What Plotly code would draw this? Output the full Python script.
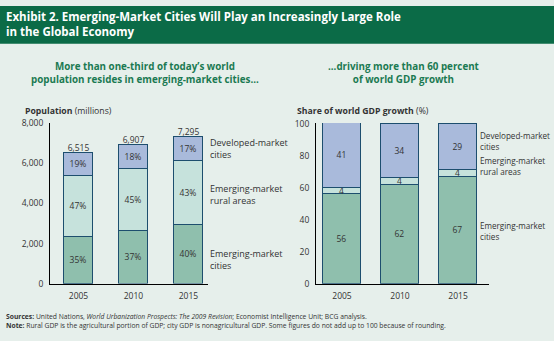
import plotly.graph_objects as go

W, H = 554, 341

years = ["2005", "2010", "2015"]

# Population (millions)
pop_totals = [6515, 6907, 7295]
pop_cities = [2300, 2600, 2900]
pop_rural = [3050, 3130, 3200]
pop_developed = [1165, 1177, 1195]
pop_cities_lbl = ["35%", "37%", "40%"]
pop_rural_lbl = ["47%", "45%", "43%"]
pop_developed_lbl = ["19%", "18%", "17%"]

# Share of world GDP growth (%)
gdp_cities = [56, 62, 67]
gdp_rural = [4, 4, 4]
gdp_developed = [41, 34, 29]

C_CITY = "#8fbfad"
C_RURAL = "#c6e2dc"
C_DEV = "#a9badb"
EDGE = "#1d4e6e"
BG = "#e6efeb"
HEAD = "#0b6b47"
GREEN_TXT = "#1b7a52"
TXT = "#333333"
FONT = "Open Sans"

def px_x(p):
    return p / W

def px_y(p):
    return 1 - p / H

fig = go.Figure()

line = dict(color=EDGE, width=1.2)
tfont = dict(family=FONT, size=8.5, color=TXT)

# Left chart
for vals, lbl, col in [(pop_cities, pop_cities_lbl, C_CITY),
                       (pop_rural, pop_rural_lbl, C_RURAL),
                       (pop_developed, pop_developed_lbl, C_DEV)]:
    fig.add_trace(go.Bar(x=years, y=vals, text=lbl, textposition="inside",
                         insidetextanchor="middle", textfont=tfont, textangle=0,
                         marker=dict(color=col, line=line), width=0.53,
                         xaxis="x", yaxis="y", showlegend=False, hoverinfo="skip"))
fig.add_trace(go.Scatter(x=years, y=pop_totals, mode="text",
                         text=[f"{v:,}" for v in pop_totals], textposition="top center",
                         textfont=tfont, xaxis="x", yaxis="y", showlegend=False,
                         hoverinfo="skip", cliponaxis=False))

# Right chart
for vals, col in [(gdp_cities, C_CITY), (gdp_rural, C_RURAL), (gdp_developed, C_DEV)]:
    fig.add_trace(go.Bar(x=years, y=vals, text=[str(v) for v in vals], textposition="inside",
                         insidetextanchor="middle", textfont=tfont, textangle=0,
                         constraintext="none",
                         marker=dict(color=col, line=line), width=0.64,
                         xaxis="x2", yaxis="y2", showlegend=False, hoverinfo="skip"))

axis_common = dict(showgrid=False, zeroline=False, showline=True, linecolor="black",
                   linewidth=1, ticks="outside", ticklen=4, tickcolor="rgba(0,0,0,0)",
                   tickfont=dict(family=FONT, size=8.5, color=TXT),
                   fixedrange=True)

fig.update_layout(
    width=W, height=H, margin=dict(l=0, r=0, t=0, b=0),
    paper_bgcolor=BG, plot_bgcolor=BG, barmode="stack", bargap=0,
    uniformtext=dict(minsize=8.5, mode="show"),
    font=dict(family=FONT, color=TXT),
    xaxis=dict(domain=[px_x(50), px_x(208)], type="category",
               range=[-0.518, 2.355], anchor="y", **axis_common),
    yaxis=dict(domain=[px_y(287), px_y(121)], range=[0, 8000], tickvals=[0, 2000, 4000, 6000, 8000],
               tickformat=",", anchor="x", **axis_common),
    xaxis2=dict(domain=[px_x(316), px_x(489)], type="category",
                range=[-0.448, 2.534], anchor="y2", **axis_common),
    yaxis2=dict(domain=[px_y(287), px_y(121)], range=[0, 100.6], tickvals=[0, 20, 40, 60, 80, 100],
                anchor="x2", **axis_common),
)

shapes = [dict(type="rect", xref="paper", yref="paper", x0=0, x1=1, y0=px_y(39), y1=1,
               fillcolor=HEAD, line=dict(width=0), layer="below")]
fig.update_layout(shapes=shapes)

ann = []
def add(text, x, y, size=8, color=TXT, xanchor="left", yref="paper", align="left"):
    ann.append(dict(text=text, x=x, y=y, xref="paper", yref=yref, xanchor=xanchor,
                    yanchor="middle", showarrow=False, align=align,
                    font=dict(family=FONT, size=size, color=color)))

# Header
add("<b>Exhibit 2. Emerging-Market Cities Will Play an Increasingly Large Role<br>in the Global Economy</b>",
    px_x(4), px_y(19), size=11.5, color="white")

# Subtitles
add("<b>More than one-third of today’s world<br>population resides in emerging-market cities...</b>",
    px_x(145), px_y(69), size=9.8, color=GREEN_TXT, xanchor="center", align="center")
add("<b>...driving more than 60 percent<br>of world GDP growth</b>",
    px_x(403), px_y(69), size=9.8, color=GREEN_TXT, xanchor="center", align="center")

# Axis titles
add("<b>Population</b> (millions)", px_x(23), px_y(108), size=8.7)
add("<b>Share of world GDP growth</b> (%)", px_x(295), px_y(109), size=8.7)

# Segment labels
for txt, yy in [("Developed-market<br>cities", 147), ("Emerging-market<br>rural areas", 195),
                ("Emerging-market<br>cities", 262)]:
    add(txt, px_x(208), px_y(yy), size=9)
for txt, yy in [("Developed-market<br>cities", 140), ("Emerging-market<br>rural areas", 165),
                ("Emerging-market<br>cities", 232)]:
    add(txt, px_x(478), px_y(yy), size=8.1)

# Footer
add("<b>Sources:</b> United Nations, <i>World Urbanization Prospects: The 2009 Revision</i>; Economist Intelligence Unit; BCG analysis.",
    px_x(4), px_y(321), size=6.75)
add("<b>Note:</b> Rural GDP is the agricultural portion of GDP; city GDP is nonagricultural GDP. Some figures do not add up to 100 because of rounding.",
    px_x(4), px_y(330), size=6.75)

fig.update_layout(annotations=ann)

fig.write_html("out.html", config={"displayModeBar": False})
